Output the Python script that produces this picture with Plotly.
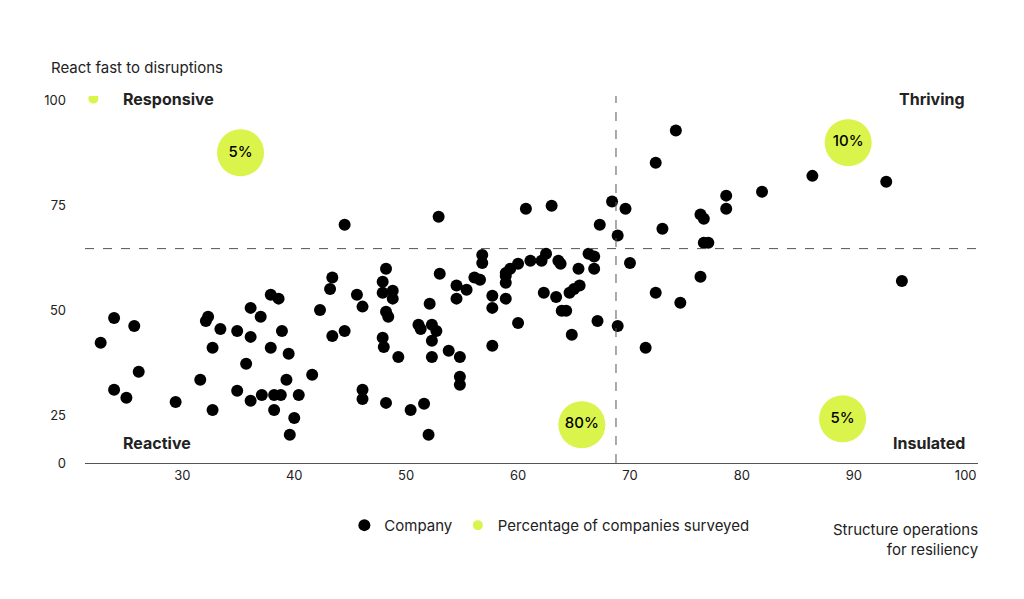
import plotly.graph_objects as go

# company scores (resiliency structure, react-fast score)
company_x = [22.7, 23.9, 23.9, 25.0, 25.7, 26.1, 29.4, 31.6, 32.1, 32.3, 32.7, 32.7, 33.4, 34.9, 34.9,
             35.7, 36.1, 36.1, 36.1, 37.0, 37.1, 37.9, 37.9, 38.2, 38.2, 38.6, 38.8, 38.9, 39.3, 39.5,
             39.6, 40.0, 40.4, 41.6, 42.3, 43.2, 43.4, 43.4, 44.5, 44.5, 45.6, 46.1, 46.1, 46.1, 47.9,
             47.9, 47.9, 48.0, 48.2, 48.2, 48.4, 48.8, 48.8, 49.3, 48.2, 50.4, 51.1, 51.3, 51.6, 52.0,
             52.1, 52.3, 52.3, 52.3, 52.7, 52.9, 53.0, 53.8, 54.5, 54.5, 54.8, 54.8, 54.8, 55.4, 56.1,
             56.8, 56.8, 56.6, 57.7, 57.7, 57.7, 58.9, 58.9, 58.9, 58.9, 59.3, 60.0, 60.0, 61.1, 60.7,
             62.1, 62.3, 62.5, 63.0, 63.4, 63.6, 63.8, 63.9, 64.3, 64.6, 64.8, 65.0, 65.4, 65.5, 66.3,
             66.8, 66.8, 67.1, 67.3, 68.4, 68.9, 68.9, 69.6, 70.0, 71.4, 72.3, 72.3, 72.9, 74.1, 74.5,
             76.3, 76.3, 76.6, 76.6, 77.0, 78.6, 78.6, 81.8, 86.3, 92.9, 94.3]
company_y = [42.4, 48.3, 31.2, 29.3, 46.4, 35.5, 28.3, 33.6, 47.6, 48.6, 41.2, 26.4, 45.7, 45.2, 31.0,
             37.4, 50.7, 43.8, 28.6, 48.6, 30.0, 41.2, 53.8, 30.0, 26.4, 52.9, 30.0, 45.2, 33.6, 39.8,
             20.5, 24.5, 30.0, 34.8, 50.2, 55.2, 57.9, 44.0, 70.5, 45.2, 53.8, 51.0, 31.2, 29.0, 56.9,
             54.3, 43.6, 41.4, 60.0, 49.8, 48.6, 52.9, 54.8, 39.0, 28.1, 26.4, 46.7, 45.7, 27.9, 20.5,
             51.7, 46.7, 42.9, 39.0, 45.2, 72.4, 58.8, 40.5, 56.0, 52.9, 39.0, 34.3, 32.4, 55.0, 57.9,
             63.3, 61.4, 57.4, 41.7, 53.6, 50.7, 56.7, 52.9, 58.3, 59.0, 60.0, 47.1, 61.2, 61.9, 74.3,
             61.9, 54.3, 63.6, 75.0, 53.3, 61.9, 61.2, 50.0, 50.0, 54.3, 44.3, 55.2, 60.0, 56.0, 63.6,
             60.0, 62.9, 47.6, 70.5, 76.0, 67.9, 46.4, 74.3, 61.4, 41.2, 54.3, 85.2, 69.5, 92.9, 51.9,
             58.1, 72.9, 71.9, 66.2, 66.2, 77.4, 74.3, 78.3, 82.1, 80.7, 57.1]

share_x = [35.2, 89.5, 65.7, 89.0, 22.05]
share_y = [87.6, 90.0, 22.9, 24.3, 100.5]
share_text = ["5%", "10%", "80%", "5%", ""]
share_size = [48, 48, 48, 48, 11]

split_x = 68.75
split_y = 64.8

y_ticks = [13.8, 25, 50, 75, 100]
y_labels = ["0", "25", "50", "75", "100"]

GREEN = "#cdf000"
FONT = "Inter"

fig = go.Figure()
fig.add_trace(go.Scatter(
    x=company_x, y=company_y, mode="markers", name="Company",
    marker=dict(color="black", size=12), hoverinfo="x+y"
))
fig.add_trace(go.Scatter(
    x=share_x, y=share_y, mode="markers+text", name="Percentage of companies surveyed",
    marker=dict(color=GREEN, size=share_size), text=share_text,
    textposition="middle center", textfont=dict(family=FONT, size=15, color="black", weight=500)
))

fig.add_shape(type="line", x0=split_x, x1=split_x, y0=13.8, y1=101.1,
              line=dict(color="#555", width=1, dash="dash"))
fig.add_shape(type="line", x0=21.3, x1=101.1, y0=split_y, y1=split_y,
              line=dict(color="#555", width=1, dash="dash"))

quadrants = [
    ("<b>Responsive</b>", 0.04, 100.5, "left"),
    ("<b>Thriving</b>", 0.988, 100.5, "right"),
    ("<b>Reactive</b>", 0.04, 18.5, "left"),
    ("<b>Insulated</b>", 0.988, 18.5, "right"),
]
for txt, xp, yv, anc in quadrants:
    fig.add_annotation(x=xp, xref="paper", y=yv, yref="y", text=txt, showarrow=False,
                       xanchor=anc, font=dict(family=FONT, size=16, color="#222"))

fig.add_annotation(x=-0.04, xref="paper", y=1.045, yref="paper", text="React fast to disruptions",
                   showarrow=False, xanchor="left", yanchor="bottom",
                   font=dict(family=FONT, size=15, color="#222"))
fig.add_annotation(x=1.003, xref="paper", y=-0.15, yref="paper",
                   text="Structure operations<br>for resiliency", showarrow=False,
                   xanchor="right", yanchor="top", align="right",
                   font=dict(family=FONT, size=15, color="#222"))

fig.update_layout(
    width=1024, height=599,
    margin=dict(l=77, r=54, t=88, b=144),
    plot_bgcolor="white", paper_bgcolor="white",
    font=dict(family=FONT, size=13, color="#222"),
    showlegend=True,
    legend=dict(orientation="h", x=0.52, xanchor="center", y=-0.125, yanchor="top",
                itemsizing="constant", font=dict(family=FONT, size=15, color="#222")),
    xaxis=dict(range=[21.3, 101.1], tickvals=[30, 40, 50, 60, 70, 80, 90, 100],
               showgrid=False, zeroline=False, showline=True, linecolor="#555", linewidth=1,
               ticks="", tickfont=dict(size=13)),
    yaxis=dict(range=[13.8, 101.1], tickvals=y_ticks, ticktext=y_labels,
               showgrid=False, zeroline=False, showline=False, ticks="",
               ticklabelstandoff=18, tickfont=dict(size=13)),
)

fig.write_html("out.html")
